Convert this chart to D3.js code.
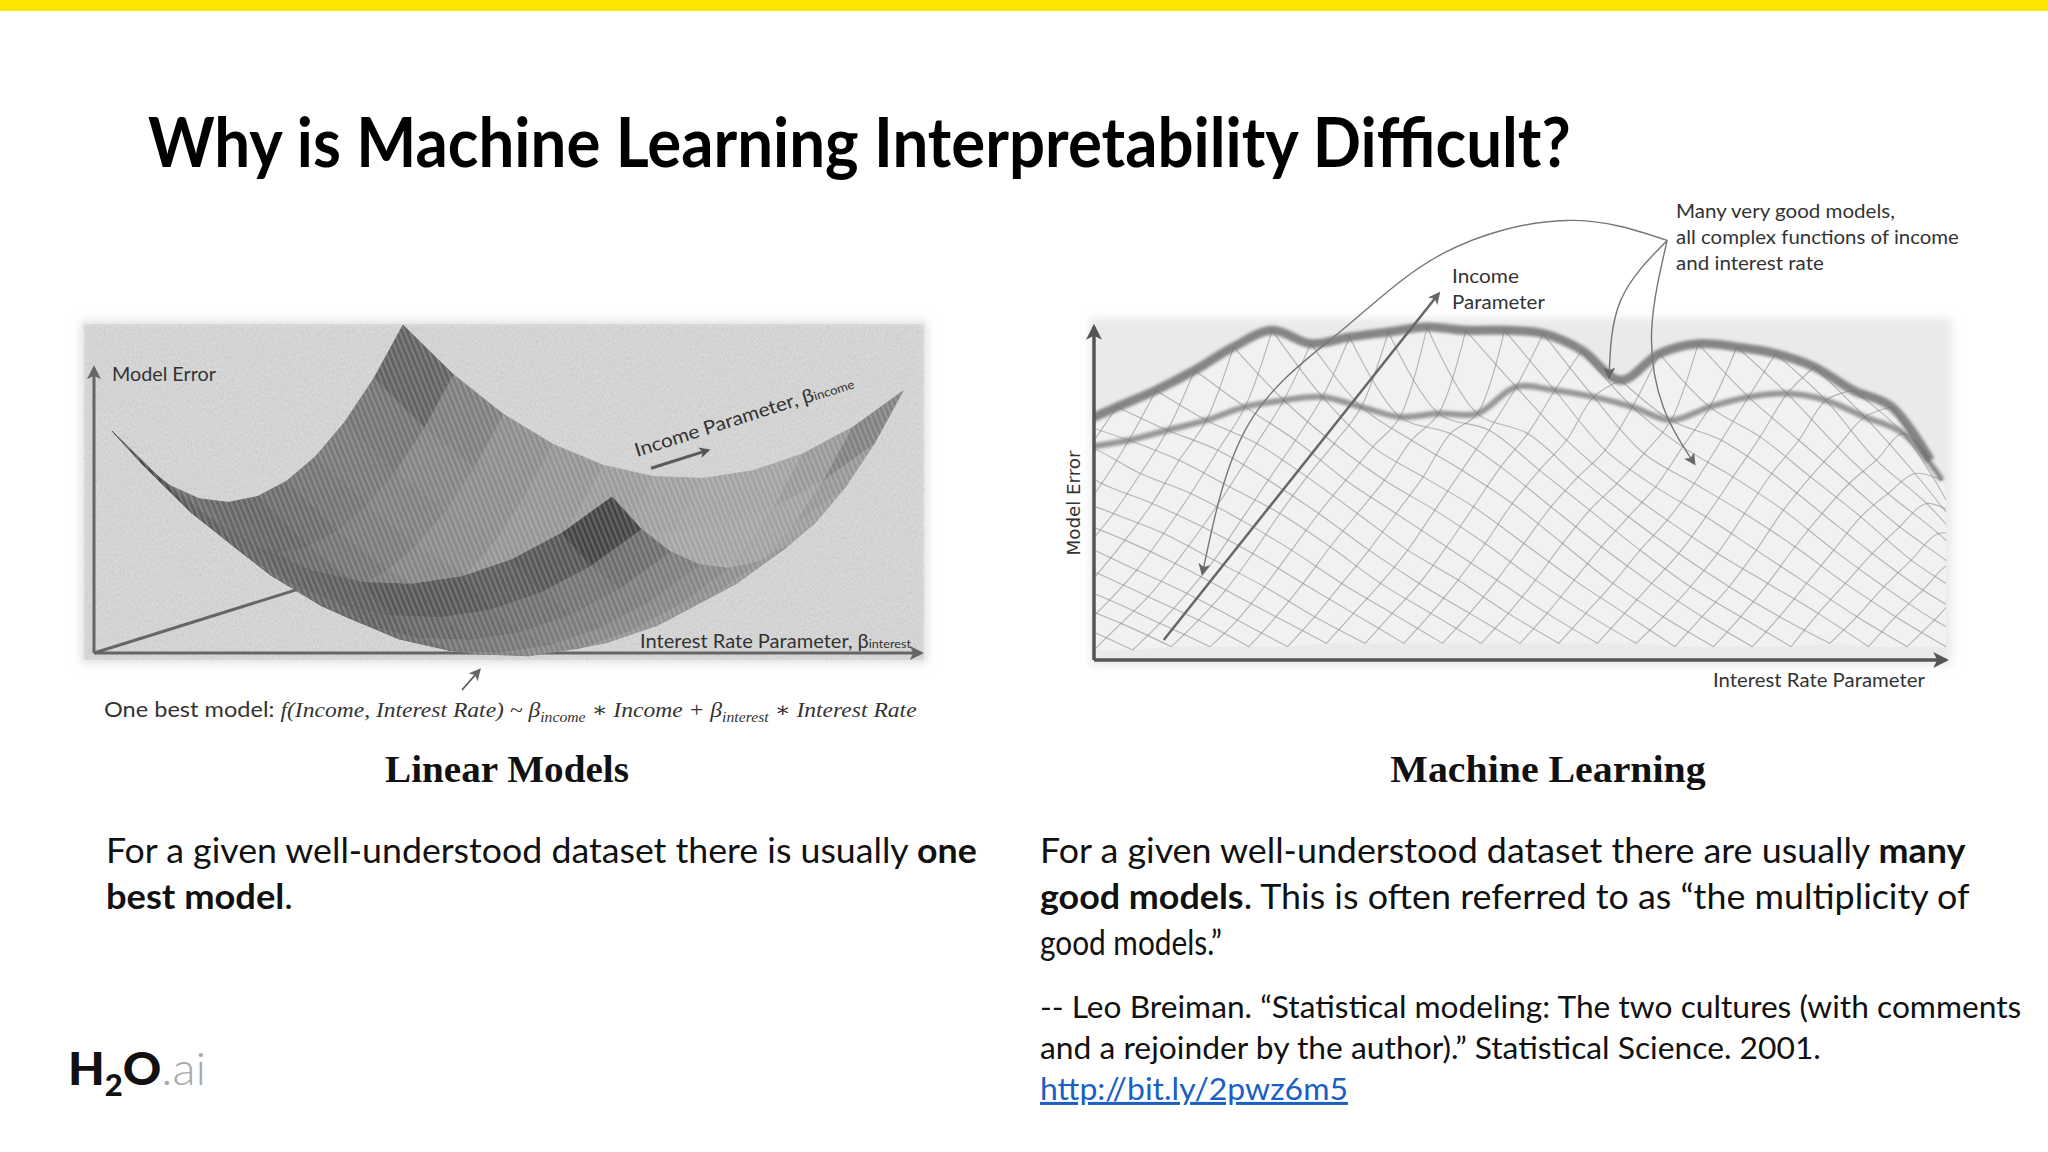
<!DOCTYPE html>
<html><head><meta charset="utf-8">
<script src="https://cdn.jsdelivr.net/npm/d3@7"></script>
<style>html,body{margin:0;padding:0;background:#fff;overflow:hidden}svg{display:block}</style>
</head><body>
<script>
// ---------------- DATA ----------------
const titleText = "Why is Machine Learning Interpretability Difficult?";

// Linear model: error surface over (interest-rate parameter, income parameter)
const linearInterest = [0,1,2,3,4,5,6,7,8,9,10];
const linearIncome = [0,1,2,3,4,5,6,7,8,9,10];
// rows = income parameter (front -> back), columns = interest-rate parameter
const linearError = [
 [1.00,0.82,0.68,0.58,0.52,0.50,0.52,0.58,0.68,0.82,1.00],
 [0.82,0.64,0.50,0.40,0.34,0.32,0.34,0.40,0.50,0.64,0.82],
 [0.68,0.50,0.36,0.26,0.20,0.18,0.20,0.26,0.36,0.50,0.68],
 [0.58,0.40,0.26,0.16,0.10,0.08,0.10,0.16,0.26,0.40,0.58],
 [0.52,0.34,0.20,0.10,0.04,0.02,0.04,0.10,0.20,0.34,0.52],
 [0.50,0.32,0.18,0.08,0.02,0.00,0.02,0.08,0.18,0.32,0.50],
 [0.52,0.34,0.20,0.10,0.04,0.02,0.04,0.10,0.20,0.34,0.52],
 [0.58,0.40,0.26,0.16,0.10,0.08,0.10,0.16,0.26,0.40,0.58],
 [0.68,0.50,0.36,0.26,0.20,0.18,0.20,0.26,0.36,0.50,0.68],
 [0.82,0.64,0.50,0.40,0.34,0.32,0.34,0.40,0.50,0.64,0.82],
 [1.00,0.82,0.68,0.58,0.52,0.50,0.52,0.58,0.68,0.82,1.00]
];

// Machine learning: bumpy error surface, rows = income depth (front -> back), columns = interest-rate steps
const mlInterest = [0,1,2,3,4,5,6,7,8,9,10,11,12,13,14,15,16,17,18,19,20,21,22,23,24];
const mlIncomeRows = [0,1,2,3,4,5,6,7,8];
const mlError = [
 [0.3,0.3,0.4,0.4,0.4,0.4,0.5,0.5,0.5,0.5,0.5,0.5,0.5,0.5,0.5,0.4,0.4,0.4,0.4,0.5,0.4,0.4,0.4,0.4,0.3],
 [1.0,1.1,1.1,1.2,1.2,1.3,1.3,1.4,1.4,1.4,1.4,1.4,1.4,1.4,1.4,1.3,1.3,1.3,1.3,1.4,1.3,1.3,1.2,1.2,1.0],
 [1.7,1.8,1.9,2.0,2.1,2.2,2.3,2.3,2.3,2.3,2.4,2.4,2.4,2.4,2.3,2.3,2.2,2.2,2.3,2.3,2.3,2.2,2.1,2.0,1.6],
 [2.4,2.6,2.7,2.9,3.0,3.2,3.3,3.4,3.3,3.3,3.4,3.5,3.5,3.5,3.4,3.3,3.2,3.2,3.3,3.4,3.3,3.2,3.0,2.9,2.3],
 [3.2,3.4,3.6,3.8,4.0,4.2,4.4,4.4,4.4,4.4,4.5,4.6,4.7,4.6,4.5,4.3,4.2,4.3,4.4,4.5,4.4,4.3,4.0,3.8,3.0],
 [4.0,4.2,4.4,4.7,5.0,5.2,5.4,5.5,5.4,5.4,5.5,5.7,5.8,5.7,5.5,5.3,5.2,5.3,5.5,5.6,5.5,5.3,5.0,4.7,3.7],
 [4.8,5.0,5.3,5.6,6.0,6.3,6.5,6.6,6.5,6.4,6.6,6.8,6.9,6.8,6.6,6.3,6.2,6.4,6.6,6.7,6.6,6.4,6.0,5.6,4.4],
 [5.9,6.2,6.4,6.6,6.9,7.2,7.6,7.8,7.9,7.6,7.3,7.4,7.4,8.2,8.1,7.9,7.6,7.2,7.6,7.9,8.0,7.8,7.3,6.8,5.4],
 [6.5,6.8,7.1,7.6,8.1,8.7,9.4,9.9,9.5,9.7,9.85,10.0,9.9,9.9,9.8,9.3,8.4,9.2,9.5,9.4,9.2,8.8,8.1,7.6,6.0]
];

// Annotation anchor points for the ML chart, in (interest step, error) units
const mlIncomeArrow = [[1.8,0.6],[8.9,11.0]];
const mlCallout1 = [[14.8,12.6],[12.2,13.2],[9.0,12.2],[6.4,9.9],[4.0,7.1],[2.8,2.6]];
const mlCallout2 = [[14.8,12.6],[13.6,10.8],[13.3,8.5]];
const mlCallout3 = [[14.8,12.6],[14.4,9.9],[14.7,7.6],[15.5,5.9]];

const leftBody1 = ["For a given well-understood dataset there is usually ", "one"];
const leftBody2 = ["best model", "."];
const rightBody1 = ["For a given well-understood dataset there are usually ", "many"];
const rightBody2 = ["good models", ". This is often referred to as \u201cthe multiplicity of"];
const rightBody3 = "good models.\u201d";
const quoteLines = ["-- Leo Breiman. \u201cStatistical modeling: The two cultures (with comments",
  "and a rejoinder by the author).\u201d Statistical Science. 2001."];
const quoteLink = "http://bit.ly/2pwz6m5";

// ---------------- DRAW ----------------
function draw(){
const W = 2048, H = 1152;
const SANS = "Lato, 'Open Sans', 'Noto Sans', sans-serif";
const svg = d3.select("body").append("svg").attr("width", W).attr("height", H)
  .attr("viewBox", `0 0 ${W} ${H}`);
svg.append("rect").attr("width", W).attr("height", H).attr("fill", "#fff");

const defs = svg.append("defs");
function marker(id, color, size){
  defs.append("marker").attr("id", id).attr("viewBox", "0 0 10 10").attr("refX", 8).attr("refY", 5)
    .attr("markerWidth", size).attr("markerHeight", size).attr("markerUnits", "userSpaceOnUse")
    .attr("orient", "auto")
    .append("path").attr("d", "M0,0 L10,5 L0,10 L2.5,5 z").attr("fill", color);
}
marker("arrL", "#666", 14);
marker("arrR", "#555", 16);
marker("arrThin", "#555", 11);
marker("arrAnn", "#666", 12);

const blur = defs.append("filter").attr("id", "soft").attr("x", -0.05).attr("y", -0.05).attr("width", 1.1).attr("height", 1.1);
blur.append("feGaussianBlur").attr("stdDeviation", 4);
const blur2 = defs.append("filter").attr("id", "soft2").attr("x", -0.05).attr("y", -0.2).attr("width", 1.1).attr("height", 1.4);
blur2.append("feGaussianBlur").attr("stdDeviation", 1.8);
const blur3 = defs.append("filter").attr("id", "soft3").attr("x", -0.05).attr("y", -0.05).attr("width", 1.1).attr("height", 1.1);
blur3.append("feGaussianBlur").attr("stdDeviation", 0.7);

const noise = defs.append("filter").attr("id", "noise").attr("x", 0).attr("y", 0).attr("width", 1).attr("height", 1);
noise.append("feTurbulence").attr("type", "fractalNoise").attr("baseFrequency", "0.9 0.35").attr("numOctaves", 2).attr("seed", 4);
noise.append("feColorMatrix").attr("type", "matrix")
  .attr("values", "0.3 0.3 0.3 0 0  0.3 0.3 0.3 0 0  0.3 0.3 0.3 0 0  0 0 0 0 0.28");
noise.append("feComposite").attr("in2", "SourceGraphic").attr("operator", "in");

const stripes = defs.append("pattern").attr("id", "stripes").attr("width", 5).attr("height", 5)
  .attr("patternUnits", "userSpaceOnUse").attr("patternTransform", "rotate(-22)");
stripes.append("line").attr("x1", 1).attr("y1", 0).attr("x2", 1).attr("y2", 5)
  .attr("stroke", "#fff").attr("stroke-opacity", 0.22).attr("stroke-width", 1.6);

defs.append("clipPath").attr("id", "mlclip").append("rect")
  .attr("x", 1094).attr("y", 290).attr("width", 852).attr("height", 370);

function fitW(sel, target){
  const w = sel.node().getBBox().width;
  const ax = +sel.attr("x") || 0;
  const s = target / w;
  const prev = sel.attr("transform") || "";
  sel.attr("transform", `${prev} translate(${ax},0) scale(${s},1) translate(${-ax},0)`);
}

// yellow bar
svg.append("rect").attr("x", 0).attr("y", 0).attr("width", W).attr("height", 11).attr("fill", "#ffe600");

// title
const t = svg.append("text").attr("x", 148).attr("y", 167).attr("font-family", SANS)
  .attr("font-weight", 700).attr("font-size", 68).attr("fill", "#000").text(titleText);
fitW(t, 1423);

// ===== LEFT: Linear model surface =====
const L = svg.append("g");
L.append("rect").attr("x", 81).attr("y", 321).attr("width", 846).attr("height", 342)
  .attr("fill", "#e0e0e0").attr("filter", "url(#soft)");
L.append("rect").attr("x", 84).attr("y", 324).attr("width", 840).attr("height", 336)
  .attr("fill", "#fff").attr("filter", "url(#noise)");

const xL = d3.scaleLinear().domain([0, 10]).range([94, 921]);
const yL = d3.scaleLinear().domain([0, 10]).range([653, 368]);
L.append("line").attr("x1", xL(0)).attr("y1", yL(0)).attr("x2", xL(0)).attr("y2", yL(10))
  .attr("stroke", "#666").attr("stroke-width", 3).attr("marker-end", "url(#arrL)");
L.append("line").attr("x1", xL(0)).attr("y1", yL(0)).attr("x2", xL(10)).attr("y2", yL(0))
  .attr("stroke", "#666").attr("stroke-width", 3).attr("marker-end", "url(#arrL)");
L.append("line").attr("x1", xL(0)).attr("y1", yL(0)).attr("x2", xL(3.2)).attr("y2", yL(2.9))
  .attr("stroke", "#666").attr("stroke-width", 3);

// projection of (interest, income, error)
const pUx = d3.scaleLinear().domain([0, 10]).range([0, 500]);
const pUy = d3.scaleLinear().domain([0, 10]).range([0, 66]);
const pVx = d3.scaleLinear().domain([0, 10]).range([0, 291]);
const pVy = d3.scaleLinear().domain([0, 10]).range([0, -106]);
const pE = d3.scaleLinear().domain([0, 1]).range([0, 237]);
const gx0 = 112, gy0 = 668;
const proj = (i, j) => [gx0 + pUx(linearInterest[i]) + pVx(linearIncome[j]),
                        gy0 + pUy(linearInterest[i]) + pVy(linearIncome[j]) - pE(linearError[j][i])];
const depth = (i, j) => -68967 * linearInterest[i] / 10 + 118500 * linearIncome[j] / 10 - 72206 * linearError[j][i];
const light = [-0.35, -0.55, 0.76];
const ln = Math.hypot(...light);
const shade = d3.interpolateRgb("#2a2a2a", "#c2c2c2");
const quads = [];
for (let j = 0; j < linearIncome.length - 1; j++) {
  for (let i = 0; i < linearInterest.length - 1; i++) {
    const c = [[i, j], [i + 1, j], [i + 1, j + 1], [i, j + 1]];
    const w = c.map(([a, b]) => [linearInterest[a] / 10, linearIncome[b] / 10, linearError[b][a] * 0.9]);
    const d1 = [w[2][0] - w[0][0], w[2][1] - w[0][1], w[2][2] - w[0][2]];
    const d2 = [w[3][0] - w[1][0], w[3][1] - w[1][1], w[3][2] - w[1][2]];
    const n = [d1[1] * d2[2] - d1[2] * d2[1], d1[2] * d2[0] - d1[0] * d2[2], d1[0] * d2[1] - d1[1] * d2[0]];
    const nn = Math.hypot(...n);
    const dot = Math.abs((n[0] * light[0] + n[1] * light[1] + n[2] * light[2]) / (nn * ln));
    const hMean = d3.mean(c, ([a, b]) => linearError[b][a]);
    quads.push({pts: c.map(([a, b]) => proj(a, b)), z: d3.mean(c, ([a, b]) => depth(a, b)), lum: dot, h: hMean, j});
  }
}
quads.sort((a, b) => b.z - a.z);
const surf = L.append("g").attr("filter", "url(#soft3)");
const lineGen = d3.line();
quads.forEach(q => {
  const v = Math.max(0, Math.min(1, 0.6 + 0.45 * (q.lum - 0.5) - 0.9 * Math.max(0, q.h - 0.6) - (q.j === 0 ? 0.08 : 0)));
  const col = shade(v);
  surf.append("path").attr("d", lineGen(q.pts) + "Z").attr("fill", col).attr("stroke", col).attr("stroke-width", 0.8);
  surf.append("path").attr("d", lineGen(q.pts) + "Z").attr("fill", "url(#stripes)");
});

// left labels
const me = L.append("text").attr("x", 112).attr("y", 381).attr("font-family", SANS).attr("font-size", 19)
  .attr("fill", "#333").text("Model Error");
fitW(me, 104);
const ipg = L.append("g").attr("transform", "translate(637,457) rotate(-17.6)");
const ip = ipg.append("text").attr("x", 0).attr("y", 0).attr("font-family", SANS).attr("font-size", 19).attr("fill", "#333");
ip.append("tspan").text("Income Parameter, \u03b2");
ip.append("tspan").attr("font-size", 12).text("income");
fitW(ip, 229);
ipg.append("line").attr("x1", 10).attr("y1", 15).attr("x2", 70).attr("y2", 15)
  .attr("stroke", "#5a5a5a").attr("stroke-width", 3).attr("marker-end", "url(#arrThin)");
const irp = L.append("text").attr("x", 640).attr("y", 648).attr("font-family", SANS).attr("font-size", 19).attr("fill", "#333");
irp.append("tspan").text("Interest Rate Parameter, \u03b2");
irp.append("tspan").attr("font-size", 12).text("interest");
fitW(irp, 272);

// pointer to the best model
L.append("line").attr("x1", xL(4.45)).attr("y1", yL(-1.3)).attr("x2", xL(4.66)).attr("y2", yL(-0.6))
  .attr("stroke", "#555").attr("stroke-width", 1.6).attr("marker-end", "url(#arrAnn)");

const fm = svg.append("text").attr("x", 104).attr("y", 717).attr("font-size", 21).attr("fill", "#333");
fm.append("tspan").attr("font-family", SANS).text("One best model: ");
const SER = "'Liberation Serif', 'DejaVu Serif', serif";
fm.append("tspan").attr("font-family", SER).attr("font-style", "italic").text("f(Income, Interest Rate) ~ \u03b2");
fm.append("tspan").attr("font-family", SER).attr("font-style", "italic").attr("font-size", 14).attr("dy", 5).text("income");
fm.append("tspan").attr("font-family", SER).attr("font-style", "italic").attr("dy", -5).text("  \u2217 Income + \u03b2");
fm.append("tspan").attr("font-family", SER).attr("font-style", "italic").attr("font-size", 14).attr("dy", 5).text("interest");
fm.append("tspan").attr("font-family", SER).attr("font-style", "italic").attr("dy", -5).text("  \u2217 Interest Rate");
fitW(fm, 813);

// ===== RIGHT: ML surface =====
const R = svg.append("g");
R.append("rect").attr("x", 1090).attr("y", 318).attr("width", 862).attr("height", 348)
  .attr("fill", "#eaeaea").attr("filter", "url(#soft)");

const mlX = d3.scaleLinear().domain([0, 22]).range([1094, 1946]);
const mlY = d3.scaleLinear().domain([0, 10]).range([660, 327]);
const shift = -0.3;
const node = (p, q) => [mlX(mlInterest[p] + shift * mlIncomeRows[q]), mlY(mlError[q][p])];
const P = mlInterest.length, Q = mlIncomeRows.length;
const mesh = R.append("g").attr("clip-path", "url(#mlclip)");

const outline = [];
for (let p = 0; p < P; p++) outline.push(node(p, Q - 1));
for (let q = Q - 1; q >= 0; q--) outline.push(node(P - 1, q));
for (let p = P - 1; p >= 0; p--) outline.push(node(p, 0));
for (let q = 0; q < Q; q++) outline.push(node(0, q));
mesh.append("path").attr("d", lineGen(outline) + "Z").attr("fill", "#f1f1f1");

const meshLines = [];
for (let s = -(Q - 1); s < P; s++) {
  const pts = [];
  for (let q = 0; q < Q; q++) { const p = s + q; if (p >= 0 && p < P) pts.push(node(p, q)); }
  if (pts.length > 1) meshLines.push(pts);
}
for (let s = 0; s < P + Q - 1; s++) {
  const pts = [];
  for (let q = Q - 1; q >= 0; q--) { const p = s - q; if (p >= 0 && p < P) pts.push(node(p, q)); }
  if (pts.length > 1) meshLines.push(pts);
}
const smooth = d3.line().curve(d3.curveCatmullRom);
mesh.selectAll("path.mesh").data(meshLines).enter().append("path").attr("class", "mesh")
  .attr("d", d => smooth(d)).attr("fill", "none").attr("stroke", "#8a8a8a")
  .attr("stroke-width", 1.1).attr("stroke-opacity", 0.6);

const crest = d3.range(P).map(p => node(p, Q - 1));
const crest2 = d3.range(P).map(p => node(p, Q - 2));
mesh.append("path").attr("d", smooth(crest)).attr("fill", "none").attr("stroke", "#6a6a6a")
  .attr("stroke-width", 9).attr("stroke-opacity", 0.8).attr("filter", "url(#soft2)");
mesh.append("path").attr("d", smooth(crest2)).attr("fill", "none").attr("stroke", "#707070")
  .attr("stroke-width", 6).attr("stroke-opacity", 0.7).attr("filter", "url(#soft2)");

R.append("line").attr("x1", mlX(0)).attr("y1", mlY(0)).attr("x2", mlX(0)).attr("y2", mlY(10))
  .attr("stroke", "#555").attr("stroke-width", 3.5).attr("marker-end", "url(#arrR)");
R.append("line").attr("x1", mlX(0)).attr("y1", mlY(0)).attr("x2", mlX(22)).attr("y2", mlY(0))
  .attr("stroke", "#555").attr("stroke-width", 3.5).attr("marker-end", "url(#arrR)");

const ann = d3.line().x(d => mlX(d[0])).y(d => mlY(d[1])).curve(d3.curveNatural);
R.append("path").attr("d", ann(mlIncomeArrow)).attr("fill", "none").attr("stroke", "#666")
  .attr("stroke-width", 2.5).attr("marker-end", "url(#arrAnn)");
[mlCallout1, mlCallout2, mlCallout3].forEach(c => {
  R.append("path").attr("d", ann(c)).attr("fill", "none").attr("stroke", "#777")
    .attr("stroke-width", 1.4).attr("marker-end", "url(#arrAnn)");
});

const rt = (x, y, s, w, fam, size) => { const e = R.append("text").attr("x", x).attr("y", y)
  .attr("font-family", fam || SANS).attr("font-size", size || 19).attr("fill", "#333").text(s); fitW(e, w); return e; };
rt(1452, 283, "Income", 67);
rt(1452, 309, "Parameter", 93);
rt(1676, 218, "Many very good models,", 219);
rt(1676, 244, "all complex functions of income", 283);
rt(1676, 270, "and interest rate", 148);
rt(1713, 687, "Interest Rate Parameter", 212);
const meR = R.append("g").attr("transform", "translate(1080,503) rotate(-90)");
const meRt = meR.append("text").attr("x", 0).attr("y", 0).attr("text-anchor", "middle")
  .attr("font-family", "'DejaVu Sans', sans-serif").attr("font-size", 17).attr("fill", "#333").text("Model Error");
fitW(meRt, 105);

// ===== headings and body =====
const SERB = "'Liberation Serif', 'DejaVu Serif', serif";
const h1 = svg.append("text").attr("x", 507).attr("y", 782).attr("text-anchor", "middle")
  .attr("font-family", SERB).attr("font-weight", 700).attr("font-size", 37).attr("fill", "#111").text("Linear Models");
fitW(h1, 244);
const h2 = svg.append("text").attr("x", 1548).attr("y", 782).attr("text-anchor", "middle")
  .attr("font-family", SERB).attr("font-weight", 700).attr("font-size", 37).attr("fill", "#111").text("Machine Learning");
fitW(h2, 316);

function para(x, y, parts, boldIdx, w, size){
  const e = svg.append("text").attr("x", x).attr("y", y).attr("font-family", SANS)
    .attr("font-size", size || 35).attr("fill", "#111");
  parts.forEach((p, k) => e.append("tspan").attr("font-weight", k === boldIdx ? 700 : 400).text(p));
  fitW(e, w);
  return e;
}
para(106, 863, leftBody1, 1, 871);
para(106, 909, leftBody2, 0, 187);
para(1040, 863, rightBody1, 1, 926);
para(1040, 909, rightBody2, 0, 930);
para(1040, 955, [rightBody3], -1, 182);
para(1040, 1018, [quoteLines[0]], -1, 982, 30);
para(1040, 1059, [quoteLines[1]], -1, 781, 30);
const lk = svg.append("text").attr("x", 1040).attr("y", 1100).attr("font-family", SANS).attr("font-size", 30)
  .attr("fill", "#1a5fc4").attr("text-decoration", "underline").text(quoteLink);
fitW(lk, 308);

// logo
const lg = svg.append("text").attr("x", 68).attr("y", 1085).attr("font-family", SANS).attr("fill", "#111");
lg.append("tspan").attr("font-weight", 900).attr("font-size", 46).text("H");
lg.append("tspan").attr("font-weight", 900).attr("font-size", 30).attr("dy", 11).text("2");
lg.append("tspan").attr("font-weight", 900).attr("font-size", 46).attr("dy", -11).text("O");
lg.append("tspan").attr("font-weight", 300).attr("font-size", 46).attr("fill", "#a8a8a8").text(".ai");
fitW(lg, 138);
}
document.fonts.ready.then(draw);
</script>
</body></html>
